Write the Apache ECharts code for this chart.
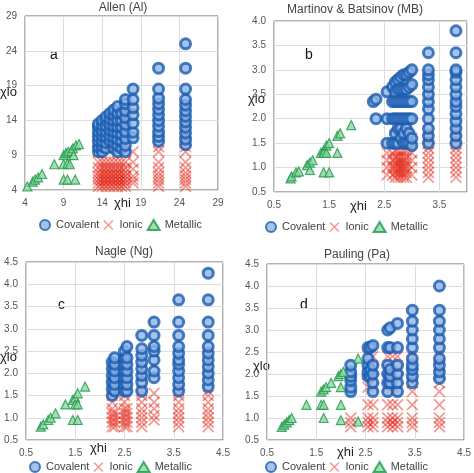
<!DOCTYPE html><html><head><meta charset="utf-8"><script src="https://cdn.jsdelivr.net/npm/echarts@6/dist/echarts.min.js"></script>
<style>html,body{margin:0;background:#fff}#c{width:474px;height:473px}</style></head><body><div id="c"></div><script>
// columns: [x, [y values]]
const covA=[[13.5,[9.5,10.2,11,11.7,12.4,13.1,13.5]],[14,[9.5,10.3,11,11.8,12.5,13.3,14]],[14.5,[10,10.8,11.6,12.4,13.2,14,14.5]],[15,[11,11.8,12.6,13.4,14.2,15]],[15.5,[10,10.8,11.6,12.4,13.2,14,14.8,15.5]],[16,[9.5,10.4,11.3,12.2,13.1,14,15,16]],[16.5,[10,11,12,13,14,15]],[17,[9.5,10.4,11.4,12.4,13.4,14.4,15.4,16.4,17]],[18,[11.5,12.3,13.6,14.8,15.8,17,18.5]],[21.3,[11,11.7,12.4,13.2,14,14.8,15.6,16.4,17.2,18.5,21.5]],[24.8,[10.5,11.3,12.2,13,13.8,14.6,15.4,16.2,17,18.5,21.5,25]]];
const ionA=[[13.5,[4.5,5,5.5,6,6.5,7.2,8,9.5,10.3,11]],[14,[4.5,5,5.5,6,6.5,7.2,8]],[14.5,[4.5,5,5.5,6,6.5,7.2,8,10]],[15,[4.5,5,5.5,6,6.5,7.2,8]],[15.5,[4.5,5,5.5,6,6.5,7.2,8,10.3]],[16,[4.5,5,5.5,6,6.5,7.2,8,9.5,10.3]],[16.5,[4.5,5,5.5,6,6.5,7.2,8,10.3]],[17,[4.5,5,5.5,6,6.5,7.2,8,9.5,10.3]],[18,[5,5.5,6,7,8,9.5]],[21.3,[4.5,5,5.5,6,6.5,7.2,8,9.5,10.2,11]],[24.8,[4.5,5,5.5,6,6.5,7.2,8,9.5,10.2,11]]];
const metA=[[4.3,4.5],[5,5.2],[5.3,5.5],[5.7,5.8],[6.2,6.3],[7.8,7.7],[9,7.7],[9.5,7.8],[9.8,7.7],[9,5.5],[9.5,5.5],[10.5,5.5],[9,9],[9.3,9.3],[9.6,9.5],[10,9.6],[10.2,10],[10.6,10.4],[11,10.6],[10.3,9]];
const covB=[[2.3,[2.35]],[2.35,[2.0,2.4]],[2.55,[1.5,2.0,2.55]],[2.65,[1.5,2.0,2.35,2.65]],[2.7,[1.5,1.7,2.0,2.35,2.55,2.75]],[2.75,[1.5,1.8,2.0,2.35,2.6,2.8]],[2.8,[1.6,1.8,2.0,2.35,2.6,2.85]],[2.85,[1.5,1.7,2.0,2.35,2.6,2.9]],[2.9,[1.5,1.8,2.0,2.35,2.6,2.9]],[2.95,[1.5,1.7,2.0,2.35,2.65,2.95]],[3.0,[1.45,1.6,2.0,2.35,2.7,3.0]],[3.3,[1.5,1.65,1.8,2.0,2.2,2.35,2.5,2.65,2.8,2.9,3.0,3.35]],[3.8,[1.5,1.65,1.8,1.95,2.1,2.25,2.35,2.5,2.65,2.8,2.95,3.0,3.35,3.8]]];
const ionB=[[2.55,[0.85,1.0,1.15,1.3]],[2.65,[0.85,1.0,1.15,1.3]],[2.7,[0.8,0.9,1.0,1.1,1.2,1.35,1.5,1.65]],[2.75,[0.8,0.9,1.0,1.1,1.2,1.35,1.5,1.7]],[2.8,[0.8,0.9,1.0,1.1,1.2,1.35,1.5,1.65]],[2.85,[0.8,0.9,1.0,1.1,1.2,1.35,1.5,1.7]],[2.9,[0.8,0.9,1.0,1.1,1.2,1.35,1.5]],[3.0,[0.85,1.0,1.15,1.3,1.6]],[3.3,[0.8,0.9,1.0,1.1,1.2,1.3,1.4,1.5,1.6,1.75]],[3.8,[0.8,0.9,1.0,1.1,1.2,1.3,1.4,1.5,1.6,1.75]]];
const metB=[[0.8,0.78],[0.82,0.82],[0.9,0.9],[0.95,0.92],[1.1,1.05],[1.15,1.1],[1.2,1.15],[1.15,0.95],[1.35,1.3],[1.4,1.35],[1.45,1.45],[1.5,1.5],[1.4,1.3],[1.45,1.3],[1.65,1.3],[1.65,1.65],[1.7,1.7],[1.9,1.87],[1.4,0.9],[1.5,0.9]];
const covC=[[2.25,[1.5,1.65,1.8,1.95,2.1,2.25]],[2.3,[1.6,1.75,1.9,2.05,2.2,2.35]],[2.5,[1.6,1.75,1.9,2.05,2.2,2.35,2.5]],[2.55,[1.6,1.75,1.9,2.05,2.2,2.35,2.6]],[2.85,[1.6,1.8,1.95,2.1,2.25,2.4,2.55,2.85]],[3.1,[1.9,2.05,2.3,2.5,2.6,2.85,3.15]],[3.6,[1.6,1.75,1.9,2.05,2.2,2.3,2.45,2.6,2.85,3.15,3.65]],[4.2,[1.7,1.85,2.0,2.15,2.3,2.45,2.6,2.85,3.15,3.65,4.25]]];
const ionC=[[2.25,[0.8,0.9,1.0,1.1,1.2,1.35,1.5,1.6]],[2.3,[0.8,0.9,1.0,1.1]],[2.5,[0.8,0.9,1.0,1.1,1.2,1.35,1.5,1.6]],[2.55,[0.8,0.9,1.0,1.1,1.2]],[2.85,[0.8,0.9,1.0,1.1,1.2,1.35,1.5,1.6]],[3.1,[0.95,1.05,1.2,1.35,1.55]],[3.6,[0.8,0.9,1.0,1.1,1.2,1.35,1.5,1.6]],[4.2,[0.8,0.9,1.0,1.1,1.2,1.35,1.5,1.6]]];
const metC=[[0.8,0.8],[0.85,0.85],[0.95,0.95],[1.0,1.0],[1.1,1.1],[1.3,1.3],[1.45,1.4],[1.5,1.45],[1.55,1.55],[1.5,1.3],[1.55,1.3],[1.45,0.95],[1.55,0.95],[1.7,1.7]];
const covD=[[2.2,[1.6,1.7,1.85,1.95,2.05,2.2]],[2.55,[1.95,2.05,2.2,2.35,2.6]],[2.6,[1.95,2.1,2.6]],[2.65,[1.6,1.8,2.0,2.2,2.65]],[2.95,[1.6,1.8,2.0,2.2,2.6,3.0]],[3.0,[1.8,1.95,2.1,2.6,3.05]],[3.15,[1.6,1.8,2.0,2.2,2.6,3.15]],[3.45,[1.8,1.95,2.1,2.2,2.35,2.6,2.8,3.0,3.2,3.45]],[4.0,[1.9,2.05,2.2,2.35,2.6,2.8,3.0,3.2,3.45,4.0]]];
const ionD=[[2.2,[0.8,0.9,1.0]],[2.55,[0.8,0.9,1.0,1.3,1.7,2.0,2.4]],[2.65,[0.8,0.9,1.0,1.3,1.7,1.9,2.1,2.4]],[2.95,[0.8,0.9,1.0,1.3,1.7,1.9,2.1,2.4]],[3.05,[0.8,0.9,1.0,1.3,1.7,2.0,2.4]],[3.15,[0.8,0.9,1.0,1.3,1.9,2.1,2.4]],[3.45,[0.8,0.9,1.0,1.3,1.6,1.8,2.0,2.2,2.4]],[4.0,[0.8,0.9,1.0,1.3,1.6,1.8,2.0,2.2,2.4]]];
const metD=[[0.8,0.8],[0.85,0.85],[0.9,0.9],[0.95,0.95],[1.0,1.0],[1.3,1.3],[1.6,1.6],[1.65,1.65],[1.7,1.7],[1.8,1.8],[1.95,1.95],[2.0,2.0],[2.05,2.05],[2.35,2.35],[1.6,1.3],[1.65,1.3],[1.65,1.0],[2.0,1.7],[2.0,1.3],[2.0,0.95],[2.35,0.92]];
const titles=['Allen (Al)','Martinov & Batsinov (MB)','Nagle (Ng)','Pauling (Pa)'];
const letters=['a','b','c','d'];
const flat=c=>c.flatMap(([x,ys])=>ys.map(y=>[x,y]));
const panels=[[covA,ionA,metA],[covB,ionB,metB],[covC,ionC,metC],[covD,ionD,metD]];
const grids=[{left:25,top:16,width:193,height:174},{left:274,top:21,width:193,height:171},{left:26,top:262,width:197,height:178},{left:267,top:264,width:200,height:176}];
const axX=[{min:4,max:29,interval:5},{min:0.5,max:4,interval:1},{min:0.5,max:4.5,interval:1},{min:0.5,max:4.5,interval:1}];
const axY=[{min:4,max:29,interval:5},{min:0.5,max:4,interval:0.5},{min:0.5,max:4.5,interval:0.5},{min:0.5,max:4.5,interval:0.5}];
const titlePos=[[123,2],[355,4],[124,246],[357,249]];
const letterPos=[[50,48],[305,48],[58,298],[300,298]];
const chiHi=[[114,197],[350,200],[90,442],[337,446]];
const chiLo=[[0,86],[248,93],[0,351],[253,360]];
const legendPos=[[132,214],[358,216],[122,456],[358,456]];
const X='path://M0,1L1,0L5,4L9,0L10,1L6,5L10,9L9,10L5,6L1,10L0,9L4,5Z';
const lbl={color:'#555',fontSize:10,fontFamily:'Liberation Sans'};
const opt={animation:false,grid:grids.map(g=>({...g,show:true,borderColor:'#666',borderWidth:1})),
xAxis:axX.map((a,i)=>({type:'value',gridIndex:i,...a,axisLine:{show:false},axisTick:{show:false},splitLine:{lineStyle:{color:'#ddd'}},axisLabel:{...lbl,formatter:v=>(i===1&&v>3.9)?'':(i===0?v:v.toFixed(1))}})),
yAxis:axY.map((a,i)=>({type:'value',gridIndex:i,...a,axisLine:{show:false},axisTick:{show:false},splitLine:{lineStyle:{color:'#ddd'}},axisLabel:{...lbl,formatter:v=>i===0?v:v.toFixed(1)}})),
legend:legendPos.map(([x,y])=>({left:x-98,top:y,itemGap:4,itemWidth:12,itemHeight:10,textStyle:{fontSize:11,color:'#444',fontFamily:'Liberation Sans'},data:['Covalent','Ionic','Metallic']})),
series:[],graphic:[]};
panels.forEach(([c,io,m],i)=>{
 opt.series.push({name:'Ionic',type:'scatter',xAxisIndex:i,yAxisIndex:i,symbol:X,symbolSize:12,itemStyle:{color:'rgba(228,40,25,0.6)'},data:flat(io)});
 opt.series.push({name:'Covalent',type:'scatter',xAxisIndex:i,yAxisIndex:i,symbol:'circle',symbolSize:10,itemStyle:{color:'#8fb3e6',borderColor:'#1a5cb0',borderWidth:3},data:flat(c)});
 opt.series.push({name:'Metallic',type:'scatter',xAxisIndex:i,yAxisIndex:i,symbol:'triangle',symbolSize:9,itemStyle:{color:'#8fd4a0',borderColor:'#1c9a48',borderWidth:1.2},data:m});
 const f='Liberation Sans';
 opt.graphic.push({type:'text',x:titlePos[i][0],y:titlePos[i][1],style:{text:titles[i],fontSize:12,fill:'#444',fontFamily:f,align:'center'}});
 opt.graphic.push({type:'text',x:letterPos[i][0],y:letterPos[i][1],style:{text:letters[i],fontSize:14,fill:'#111',fontFamily:f}});
 opt.graphic.push({type:'text',x:chiLo[i][0],y:chiLo[i][1],style:{text:'χlo',fontSize:13,fill:'#222',fontFamily:f}});
 opt.graphic.push({type:'text',x:chiHi[i][0],y:chiHi[i][1],style:{text:'χhi',fontSize:13,fill:'#222',fontFamily:f}});
});
echarts.init(document.getElementById('c')).setOption(opt);
</script></body></html>
